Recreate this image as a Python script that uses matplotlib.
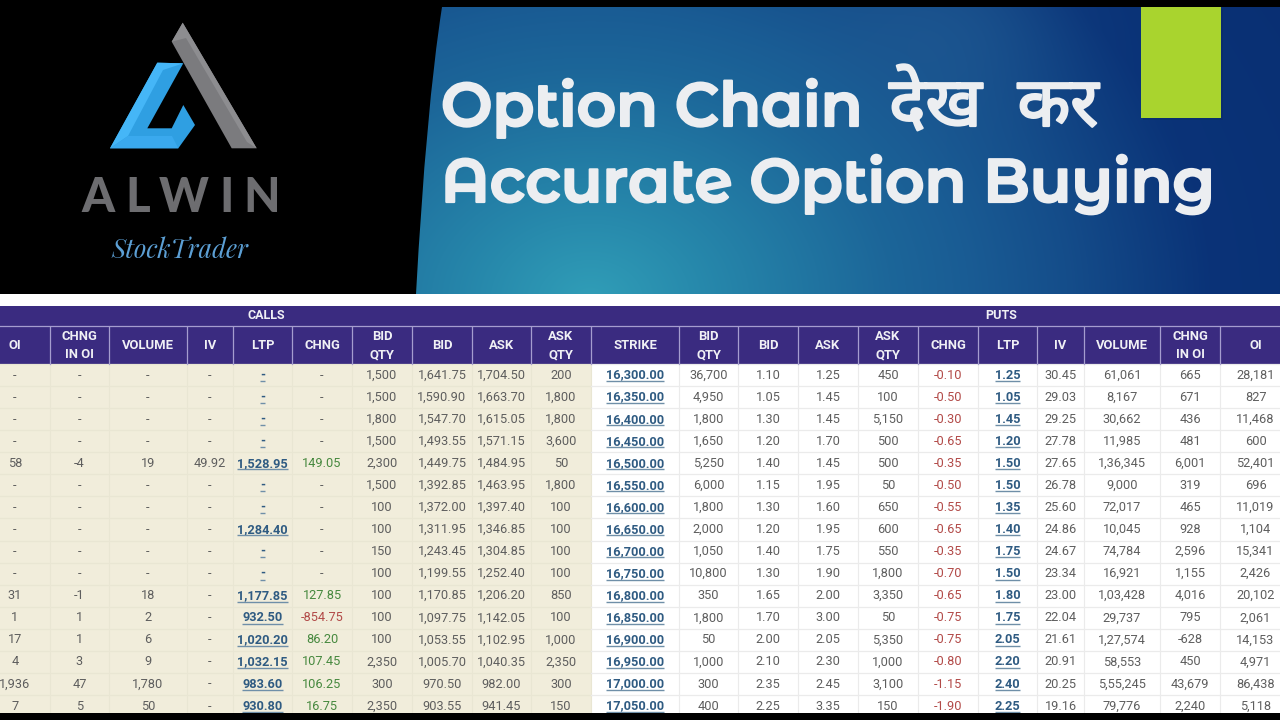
import numpy as np
import matplotlib
matplotlib.use("Agg")
import matplotlib.pyplot as plt
import matplotlib.patheffects as pe
from matplotlib.patches import Polygon, PathPatch, Rectangle
from matplotlib.path import Path

call_oi = ["-", "-", "-", "-", "58", "-", "-", "-", "-", "-", "31", "1", "17", "4", "1,936", "7"]
call_chng_oi = ["-", "-", "-", "-", "-4", "-", "-", "-", "-", "-", "-1", "1", "1", "3", "47", "5"]
call_volume = ["-", "-", "-", "-", "19", "-", "-", "-", "-", "-", "18", "2", "6", "9", "1,780", "50"]
call_iv = ["-", "-", "-", "-", "49.92", "-", "-", "-", "-", "-", "-", "-", "-", "-", "-", "-"]
call_ltp = ["-", "-", "-", "-", "1,528.95", "-", "-", "1,284.40", "-", "-", "1,177.85", "932.50", "1,020.20", "1,032.15", "983.60", "930.80"]
call_chng = ["-", "-", "-", "-", "149.05", "-", "-", "-", "-", "-", "127.85", "-854.75", "86.20", "107.45", "106.25", "16.75"]
call_bid_qty = ["1,500", "1,500", "1,800", "1,500", "2,300", "1,500", "100", "100", "150", "100", "100", "100", "100", "2,350", "300", "2,350"]
call_bid = ["1,641.75", "1,590.90", "1,547.70", "1,493.55", "1,449.75", "1,392.85", "1,372.00", "1,311.95", "1,243.45", "1,199.55", "1,170.85", "1,097.75", "1,053.55", "1,005.70", "970.50", "903.55"]
call_ask = ["1,704.50", "1,663.70", "1,615.05", "1,571.15", "1,484.95", "1,463.95", "1,397.40", "1,346.85", "1,304.85", "1,252.40", "1,206.20", "1,142.05", "1,102.95", "1,040.35", "982.00", "941.45"]
call_ask_qty = ["200", "1,800", "1,800", "3,600", "50", "1,800", "100", "100", "100", "100", "850", "100", "1,000", "2,350", "300", "150"]
strikes = ["16,300.00", "16,350.00", "16,400.00", "16,450.00", "16,500.00", "16,550.00", "16,600.00", "16,650.00", "16,700.00", "16,750.00", "16,800.00", "16,850.00", "16,900.00", "16,950.00", "17,000.00", "17,050.00"]
put_bid_qty = ["36,700", "4,950", "1,800", "1,650", "5,250", "6,000", "1,800", "2,000", "1,050", "10,800", "350", "1,800", "50", "1,000", "300", "400"]
put_bid = ["1.10", "1.05", "1.30", "1.20", "1.40", "1.15", "1.30", "1.20", "1.40", "1.30", "1.65", "1.70", "2.00", "2.10", "2.35", "2.25"]
put_ask = ["1.25", "1.45", "1.45", "1.70", "1.45", "1.95", "1.60", "1.95", "1.75", "1.90", "2.00", "3.00", "2.05", "2.30", "2.45", "3.35"]
put_ask_qty = ["450", "100", "5,150", "500", "500", "50", "650", "600", "550", "1,800", "3,350", "50", "5,350", "1,000", "3,100", "150"]
put_chng = ["-0.10", "-0.50", "-0.30", "-0.65", "-0.35", "-0.50", "-0.55", "-0.65", "-0.35", "-0.70", "-0.65", "-0.75", "-0.75", "-0.80", "-1.15", "-1.90"]
put_ltp = ["1.25", "1.05", "1.45", "1.20", "1.50", "1.50", "1.35", "1.40", "1.75", "1.50", "1.80", "1.75", "2.05", "2.20", "2.40", "2.25"]
put_iv = ["30.45", "29.03", "29.25", "27.78", "27.65", "26.78", "25.60", "24.86", "24.67", "23.34", "23.00", "22.04", "21.61", "20.91", "20.25", "19.16"]
put_volume = ["61,061", "8,167", "30,662", "11,985", "1,36,345", "9,000", "72,017", "10,045", "74,784", "16,921", "1,03,428", "29,737", "1,27,574", "58,553", "5,55,245", "79,776"]
put_chng_oi = ["665", "671", "436", "481", "6,001", "319", "465", "928", "2,596", "1,155", "4,016", "795", "-628", "450", "43,679", "2,240"]
put_oi = ["28,181", "827", "11,468", "600", "52,401", "696", "11,019", "1,104", "15,341", "2,426", "20,102", "2,061", "14,153", "4,971", "86,438", "5,118"]

columns = [call_oi, call_chng_oi, call_volume, call_iv, call_ltp, call_chng, call_bid_qty, call_bid, call_ask, call_ask_qty, strikes,
           put_bid_qty, put_bid, put_ask, put_ask_qty, put_chng, put_ltp, put_iv, put_volume, put_chng_oi, put_oi]
headers = ["OI", "CHNG\nIN OI", "VOLUME", "IV", "LTP", "CHNG", "BID\nQTY", "BID", "ASK", "ASK\nQTY", "STRIKE",
           "BID\nQTY", "BID", "ASK", "ASK\nQTY", "CHNG", "LTP", "IV", "VOLUME", "CHNG\nIN OI", "OI"]

# pixel layout of the table
edges = [-20, 50, 109, 187, 233, 292, 352, 412, 472, 531, 591, 679, 738, 798, 858, 918, 978, 1037, 1084, 1160, 1220, 1291]
row_top = 364
row_h = 22.07
PURPLE = "#3a2b80"
LAV = "#a59dcf"
GREY = "#5e5e5e"
BLUE = "#2f5b82"
GREEN = "#47893f"
RED = "#b24a48"
HEAD = "#f0f0f5"
TITLE = "#eceef1"

fig = plt.figure(figsize=(12.8, 7.2), dpi=100, facecolor="black")
ax = fig.add_axes([0, 0, 1, 1])
ax.set_xlim(0, 1280)
ax.set_ylim(720, 0)
ax.axis("off")

# banner gradient
yy, xx = np.mgrid[7:294, 410:1280]
d = np.hypot(xx - 590, (yy - 300) * 1.3)
stops = [0, 120, 300, 380, 480, 620, 1000]
rgb = [(0.19, 0.62, 0.72), (0.15, 0.53, 0.67), (0.11, 0.40, 0.60), (0.10, 0.36, 0.58),
       (0.08, 0.30, 0.54), (0.04, 0.20, 0.47), (0.03, 0.17, 0.43)]
grad = np.dstack([np.interp(d, stops, [c[i] for c in rgb]) for i in range(3)])
glow = np.exp(-(((xx - 946) / 110.0) ** 2 + ((yy - 30) / 90.0) ** 2))[..., None]
grad = grad * (1 - 0.55 * glow) + np.array([0.13, 0.36, 0.58]) * 0.55 * glow
im = ax.imshow(grad, extent=(410, 1280, 294, 7), aspect="auto", zorder=1)
panel = Path([(442, 7), (426, 110), (416, 294), (1280, 294), (1280, 7), (442, 7)],
             [Path.MOVETO, Path.CURVE3, Path.CURVE3, Path.LINETO, Path.LINETO, Path.CLOSEPOLY])
clip = PathPatch(panel, transform=ax.transData, fc="none", ec="none")
ax.add_patch(clip)
im.set_clip_path(clip)
ax.set_xlim(0, 1280)
ax.set_ylim(720, 0)

ax.add_patch(Rectangle((1143, 9), 80, 111, fc="#0a2a66", ec="none", alpha=0.5, zorder=2))
ax.add_patch(Rectangle((1141, 7), 80, 111, fc="#a9d42e", ec="none", zorder=2))

heavy = [pe.withStroke(linewidth=1.6, foreground=TITLE)]
ax.text(441, 126, "Option Chain", fontsize=44, family=["Montserrat Alternates", "Open Sans"], weight=600, color=TITLE, zorder=3, path_effects=heavy)
ax.text(889, 126, "देख  कर", fontsize=49.5, family=["Noto Sans Devanagari", "DejaVu Sans"], weight="bold", color=TITLE, zorder=3, path_effects=heavy)
ax.text(441, 202, "Accurate Option Buying", fontsize=44, family=["Montserrat Alternates", "Open Sans"], weight=600, color=TITLE, zorder=3, path_effects=heavy)

# logo
ax.add_patch(Polygon([(182.7, 22.7), (171.7, 41.7), (231.7, 148.3), (256.7, 148.3)], fc="#7b7b7e", ec="none", zorder=2))
ax.add_patch(Polygon([(182.7, 22.7), (171.7, 41.7), (186, 38), (247, 142), (256.7, 148.3)], fc="#8d8d90", ec="none", zorder=2))
ax.add_patch(Polygon([(157.3, 62.7), (183.3, 63.3), (147.3, 128.3), (171.7, 128.3), (183.3, 105), (195, 125), (178.3, 148.3), (110, 148.3)],
                     fc="#2f9fe2", ec="none", zorder=2))
ax.add_patch(Polygon([(157.3, 62.7), (110, 148.3), (128, 136), (163, 70), (183.3, 63.3)], fc="#45b6f7", ec="none", zorder=2))
ax.add_patch(Polygon([(110, 148.3), (178.3, 148.3), (172, 136), (128, 136)], fc="#3aa9ee", ec="none", zorder=2))

logo_letters = ["A", "L", "W", "I", "N"]
logo_x = [98, 138, 184, 227, 262]
for ch, lx in zip(logo_letters, logo_x):
    ax.text(lx, 212, ch, fontsize=34, family="Lato", weight=900, color="#6d6d70", ha="center", zorder=3)
ax.text(180, 258, "StockTrader", fontsize=18.5, family=["Playfair Display", "Liberation Serif"], style="italic", color="#5c9fd4", ha="center", zorder=3)

# table background
ax.add_patch(Rectangle((0, 294), 1280, 419, fc="white", ec="none", zorder=2))
ax.add_patch(Rectangle((0, row_top), edges[10], 350, fc="#f1eddb", ec="none", zorder=2))
ax.add_patch(Rectangle((0, 306), 1280, 58, fc=PURPLE, ec="none", zorder=3))
ax.plot([0, 1280], [326, 326], color=LAV, lw=0.9, zorder=4)

ax.text(266, 319, "CALLS", fontsize=9, family="Roboto", weight="bold", color=HEAD, ha="center", zorder=5)
ax.text(1001, 319, "PUTS", fontsize=9, family="Roboto", weight="bold", color=HEAD, ha="center", zorder=5)

for i in range(len(edges) - 1):
    e = edges[i + 1]
    if e < 1280:
        ax.plot([e, e], [327, 364], color=LAV, lw=0.9, zorder=4)
        line_c = "#e9e6d3" if e <= edges[10] else "#ebebeb"
        ax.plot([e, e], [364, 713], color=line_c, lw=0.8, zorder=3)

for r in range(len(strikes) + 1):
    y = row_top + r * row_h
    ax.plot([0, edges[10]], [y, y], color="#e9e6d3", lw=0.9, zorder=3)
    ax.plot([edges[10], 1280], [y, y], color="#ebebeb", lw=0.9, zorder=3)

fig.canvas.draw()
renderer = fig.canvas.get_renderer()

def cell_colour(col, val):
    if col in (5, 15) and val != "-":
        return RED if val.startswith("-") else GREEN
    return GREY

for c, (head, col) in enumerate(zip(headers, columns)):
    cx = (edges[c] + edges[c + 1]) / 2
    if "\n" in head:
        top, bottom = head.split("\n")
        ax.text(cx, 340, top, fontsize=9.4, family="Roboto", weight="bold", color=HEAD, ha="center", zorder=5)
        ax.text(cx, 358, bottom, fontsize=9.4, family="Roboto", weight="bold", color=HEAD, ha="center", zorder=5)
    else:
        ax.text(cx, 349, head, fontsize=9.4, family="Roboto", weight="bold", color=HEAD, ha="center", zorder=5)
    linked = c in (4, 10, 16)
    for r, val in enumerate(col):
        y = row_top + (r + 0.5) * row_h + 3.5
        if linked:
            t = ax.text(cx, y, val, fontsize=9.2, family="Roboto", weight="bold", color=BLUE, ha="center", zorder=5)
            box = t.get_window_extent(renderer)
            ax.plot([box.x0, box.x1], [y + 2.4, y + 2.4], color="#6f8fa8", lw=1.0, zorder=5, solid_capstyle="butt")
        else:
            ax.text(cx, y, val, fontsize=9.2, family="Roboto", color=cell_colour(c, val), ha="center", zorder=5)

ax.add_patch(Rectangle((0, 713), 1280, 7, fc="black", ec="none", zorder=6))

fig.savefig("out.png", dpi=100, facecolor="black")
